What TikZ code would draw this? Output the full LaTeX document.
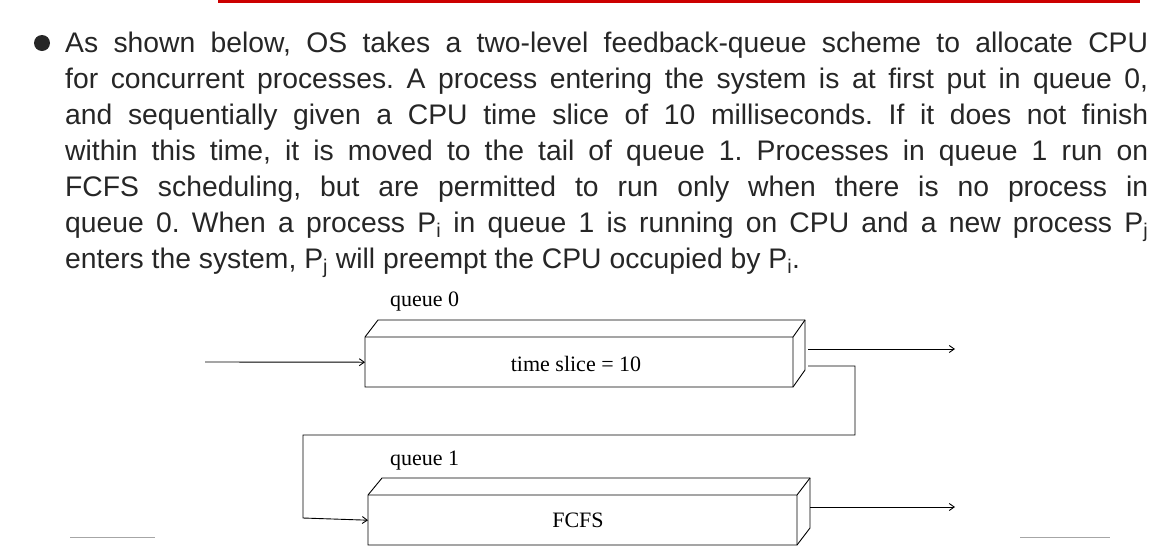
\documentclass[tikz,border=0pt]{standalone}
\usepackage{fontspec}
\setmainfont{Liberation Sans}
\newfontfamily\tnr{Liberation Serif}
\usetikzlibrary{arrows.meta}
\definecolor{txt}{HTML}{262626}
\frenchspacing
\begin{document}
\begin{tikzpicture}[x=1pt,y=-1pt,
  ln/.style={anchor=base west,inner sep=0pt,text=txt,font=\fontsize{28.3}{30}\selectfont},
  lab/.style={inner sep=0pt,font=\tnr\fontsize{22}{24}\selectfont},
  bx/.style={draw,line width=0.9pt,fill=white,line join=miter},
  ar/.style={line width=0.9pt,-{Straight Barb[length=5pt,width=7pt]}}]
\useasboundingbox (0,0) rectangle (1165,555);
\fill[red!80!black] (218,0) rectangle (1140,3);
\draw[gray!70,line width=1pt] (70,537) -- (155,537) (1020,537) -- (1110,537);
\fill[txt] (42,43) circle (8);
\newcommand{\jl}[1]{\makebox[1083pt][s]{#1}}
\node[ln] (l1) at (65,52) {\jl{As shown below, OS takes a two-level feedback-queue scheme to allocate CPU}};
\node[ln] (l2) at (65,88) {\jl{for concurrent processes. A process entering the system is at first put in queue 0,}};
\node[ln] (l3) at (65,124) {\jl{and sequentially given a CPU time slice of 10 milliseconds. If it does not finish}};
\node[ln] (l4) at (65,160) {\jl{within this time, it is moved to the tail of queue 1. Processes in queue 1 run on}};
\node[ln] (l5) at (65,196) {\jl{FCFS scheduling, but are permitted to run only when there is no process in}};
\node[ln] (l6) at (65,232) {\jl{queue 0. When a process P\textsubscript{i} in queue 1 is running on CPU and a new process P\textsubscript{j}}};
\node[ln] (l7) at (65,268) {enters the system, P\textsubscript{j} will preempt the CPU occupied by P\textsubscript{i}.};
% queue 0 box
\draw[bx] (365,337) -- (378,320) -- (805,320) -- (805,370) -- (793,387) -- (365,387) -- cycle;
\draw[line width=0.9pt] (793,387) -- (793,337) -- (805,320) (365,337) -- (793,337);
\node[minimum width=428pt,minimum height=50pt,anchor=north west,inner sep=0pt] (q0) at (365,337) {};
\node[lab] (t0) at (576,364) {time slice = 10};
\node[lab,anchor=west] (n0) at (390,302) {queue 0};
% queue 1 box
\draw[bx] (368,495) -- (382,478) -- (810,478) -- (810,528) -- (797,545) -- (368,545) -- cycle;
\draw[line width=0.9pt] (797,545) -- (797,495) -- (810,478) (368,495) -- (797,495);
\node[minimum width=429pt,minimum height=50pt,anchor=north west,inner sep=0pt] (q1) at (368,495) {};
\node[lab] (t1) at (578,520) {FCFS};
\node[lab,anchor=west] (n1) at (390,461) {queue 1};
% connectors
\coordinate (in0) at (205,362);
\coordinate (o0) at (955,349);
\coordinate (o1) at (955,507);
\draw[ar] (in0) -- (q0.west);
\draw[ar] (808,349) -- (o0);
\draw[ar] (808,366) -| (855,435) -| (303,518) -- (q1.west);
\draw[ar] (810,507) -- (o1);
\end{tikzpicture}
\end{document}
